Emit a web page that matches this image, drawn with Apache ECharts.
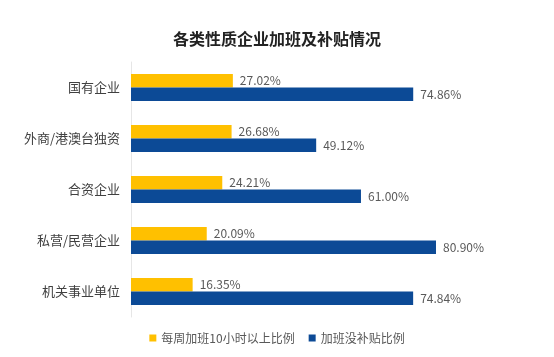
<!DOCTYPE html>
<html>
<head>
<meta charset="utf-8">
<script src="https://cdn.jsdelivr.net/npm/echarts@6/dist/echarts.min.js"></script>
<style>
  html, body { margin: 0; padding: 0; background: #fff; }
  #chart { width: 554px; height: 357px; }
</style>
</head>
<body>
<div id="chart"></div>
<script>
const categories = ["国有企业", "外商/港澳台独资", "合资企业", "私营/民营企业", "机关事业单位"];
const overtimeRate = [27.02, 26.68, 24.21, 20.09, 16.35];
const noSubsidyRate = [74.86, 49.12, 61.00, 80.90, 74.84];

const font = '"Noto Sans CJK SC", "Microsoft YaHei", sans-serif';

let myEchart = echarts.init(document.getElementById("chart"));

let valueLabel = {
  show: true,
  position: "right",
  distance: 7,
  color: "#595959",
  fontSize: 12,
  fontFamily: font,
  formatter: (p) => p.value.toFixed(2) + "%"
};

myEchart.setOption({
  animation: false,
  title: {
    text: "各类性质企业加班及补贴情况",
    left: "center",
    top: 26,
    textStyle: { fontSize: 16, fontWeight: "bold", color: "#222", fontFamily: font }
  },
  legend: {
    bottom: 8,
    left: "center",
    itemWidth: 7,
    itemHeight: 7,
    itemGap: 14,
    icon: "rect",
    textStyle: { fontSize: 12, color: "#595959", fontFamily: font },
    data: ["每周加班10小时以上比例", "加班没补贴比例"]
  },
  grid: { left: 131, right: 46, top: 62, height: 255 },
  xAxis: {
    type: "value",
    min: 0,
    max: 100,
    show: false
  },
  yAxis: {
    type: "category",
    inverse: true,
    data: categories,
    axisTick: { show: false },
    axisLine: { lineStyle: { color: "#e6e6e6" } },
    axisLabel: { color: "#404040", fontSize: 13, margin: 11, fontFamily: font }
  },
  series: [
    {
      name: "每周加班10小时以上比例",
      type: "bar",
      data: overtimeRate,
      barWidth: 13.5,
      barGap: "0%",
      itemStyle: { color: "#ffc000" },
      label: valueLabel
    },
    {
      name: "加班没补贴比例",
      type: "bar",
      data: noSubsidyRate,
      barWidth: 13.5,
      barGap: "0%",
      itemStyle: { color: "#0c4a96" },
      label: valueLabel
    }
  ]
});
</script>
</body>
</html>
